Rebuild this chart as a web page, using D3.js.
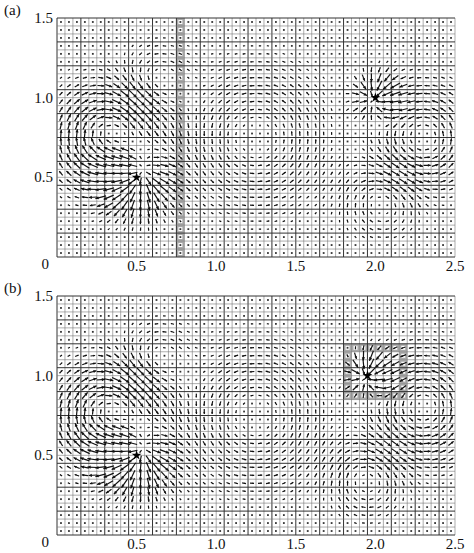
<!DOCTYPE html>
<html><head><meta charset="utf-8">
<script src="https://cdn.jsdelivr.net/npm/d3@7"></script>
<style>body{margin:0;background:#fff}</style>
</head><body><svg width="474" height="553"></svg>
<script>
// tick labels
const xTicks = [0.5, 1.0, 1.5, 2.0, 2.5];
const yTicks = [0.5, 1.0, 1.5];
const cellSize = 0.05;

// flow features: [type, x, y, strength, width]
const featuresA = [
  ["source", 0.5, 0.5, 1.2, 0.2],
  ["vortex", 0.32, 0.75, -0.9, 0.3],
  ["vortex", 0.62, 1.1, 0.45, 0.22],
  ["vortex", 1.25, 0.75, 0.5, 0.42],
  ["sink", 2.0, 1.0, 1.0, 0.13],
  ["vortex", 2.3, 0.75, 0.7, 0.3],
  ["vortex", 2.05, 0.35, -0.45, 0.22]
];
const featuresB = [
  ["source", 0.5, 0.5, 1.2, 0.2],
  ["vortex", 0.32, 0.75, -0.9, 0.3],
  ["vortex", 0.62, 1.1, 0.45, 0.22],
  ["vortex", 1.25, 0.75, 0.5, 0.42],
  ["sink", 1.95, 1.0, 1.1, 0.12],
  ["vortex", 2.3, 0.8, 0.75, 0.32],
  ["vortex", 1.95, 0.35, -0.5, 0.22]
];
// highlighted ring of cells: [x0, y0, x1, y1] in data units
const highlightA = [0.75, 0.0, 0.80, 1.5];
const highlightB = [1.80, 0.85, 2.20, 1.20];
const markers = { a: [[0.5, 0.5], [2.0, 1.0]], b: [[0.5, 0.5], [1.95, 1.0]] };

const svg = d3.select("svg");
const font = "'Liberation Serif','Times New Roman','DejaVu Serif',serif";
const x = d3.scaleLinear().domain([0, 2.5]).range([57, 455]);

function field(feats, px, py) {
  let u = 0, v = 0;
  feats.forEach(([t, fx, fy, s, w]) => {
    const dx = px - fx, dy = py - fy, r2 = dx * dx + dy * dy;
    const g = s * Math.exp(-r2 / (w * w)) / w;
    if (t === "source") { u += g * dx; v += g * dy; }
    else if (t === "sink") { u -= g * dx; v -= g * dy; }
    else { u += -g * dy; v += g * dx; }
  });
  return [u, v];
}

function panel(label, top, feats, hl, marks) {
  const y = d3.scaleLinear().domain([0, 1.5]).range([top + 239, top]);
  const g = svg.append("g");
  const xs = d3.range(0, 2.5 + 1e-9, cellSize), ys = d3.range(0, 1.5 + 1e-9, cellSize);
  const cells = [];
  xs.slice(0, -1).forEach(cx => ys.slice(0, -1).forEach(cy => cells.push([cx, cy])));
  // highlight ring cells
  const [hx0, hy0, hx1, hy1] = hl, e = 1e-6;
  cells.filter(([cx, cy]) => cx >= hx0 - e && cx < hx1 - e && cy >= hy0 - e && cy < hy1 - e &&
      (cx < hx0 + e || cx > hx1 - cellSize - e || cy < hy0 + e || cy > hy1 - cellSize - e))
    .forEach(([cx, cy]) => g.append("rect")
      .attr("x", x(cx) + 1).attr("y", y(cy + cellSize) + 1)
      .attr("width", x(cx + cellSize) - x(cx) - 2).attr("height", y(cy) - y(cy + cellSize) - 2)
      .attr("fill", "#fff").attr("stroke", "#a8a8a8").attr("stroke-width", 2));
  g.selectAll(".vl").data(xs).join("line")
    .attr("x1", d => x(d)).attr("x2", d => x(d)).attr("y1", y(0)).attr("y2", y(1.5))
    .attr("stroke", (d, i) => i % 3 === 0 ? "#333" : "#777").attr("stroke-width", (d, i) => i % 3 === 0 ? 1 : 0.6);
  g.selectAll(".hl").data(ys).join("line")
    .attr("y1", d => y(d)).attr("y2", d => y(d)).attr("x1", x(0)).attr("x2", x(2.5))
    .attr("stroke", (d, i) => i % 3 === 0 ? "#333" : "#777").attr("stroke-width", (d, i) => i % 3 === 0 ? 1 : 0.6);
  cells.forEach(([c0, c1]) => {
    const cx = c0 + cellSize / 2, cy = c1 + cellSize / 2;
    const [u, v] = field(feats, cx, cy);
    const m = Math.hypot(u, v);
    const len = Math.min(11, m * 22);
    const X = x(cx), Y = y(cy);
    if (len < 2.2) {
      g.append("rect").attr("x", X - 0.9).attr("y", Y - 0.9).attr("width", 1.8).attr("height", 1.8).attr("fill", "#333");
      return;
    }
    const ux = u / m, uy = -v / m;
    const x1 = X - ux * len / 2, y1 = Y - uy * len / 2, x2 = X + ux * len / 2, y2 = Y + uy * len / 2;
    g.append("line").attr("x1", x1).attr("y1", y1).attr("x2", x2).attr("y2", y2)
      .attr("stroke", "#111").attr("stroke-width", 1.2);
    const h = Math.min(3.2, len * 0.4);
    g.append("path").attr("d", `M${x2},${y2}L${x2 - ux * h - uy * h * 0.5},${y2 - uy * h + ux * h * 0.5}L${x2 - ux * h + uy * h * 0.5},${y2 - uy * h - ux * h * 0.5}Z`)
      .attr("fill", "#111");
  });
  marks.forEach(([mx, my]) => g.append("path").attr("d", d3.symbol(d3.symbolStar, 30)())
    .attr("transform", `translate(${x(mx)},${y(my)})`).attr("fill", "#000"));
  const txt = sel => sel.attr("font-family", font).attr("font-size", 15).attr("fill", "#111");
  g.selectAll(".xt").data(xTicks).join("text").attr("x", d => x(d)).attr("y", y(0) + 14)
    .attr("text-anchor", "middle").text(d => d.toFixed(1)).call(txt);
  g.selectAll(".yt").data(yTicks).join("text").attr("x", x(0) - 4).attr("y", d => y(d) + 5)
    .attr("text-anchor", "end").text(d => d.toFixed(1)).call(txt);
  g.append("text").attr("x", x(0) - 8).attr("y", y(0) + 12).attr("text-anchor", "end").text("0").call(txt);
  g.append("text").attr("x", 4).attr("y", top - 3).text(label).call(txt);
}
panel("(a)", 18, featuresA, highlightA, markers.a);
panel("(b)", 296, featuresB, highlightB, markers.b);
</script></body></html>
